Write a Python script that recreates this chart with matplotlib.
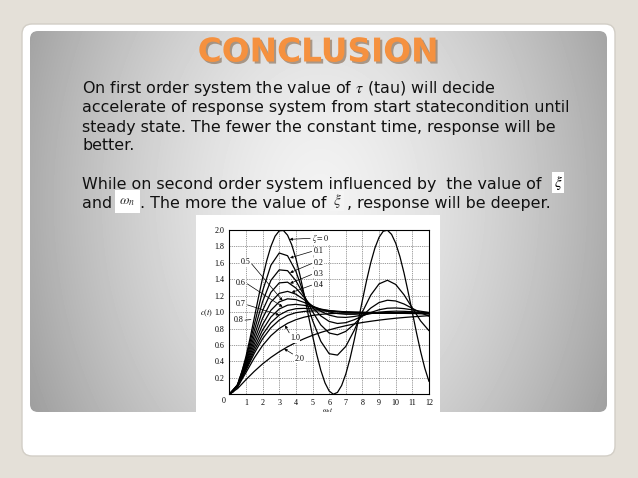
import numpy as np
import matplotlib
matplotlib.use("Agg")
import matplotlib.pyplot as plt
import matplotlib.patheffects as pe
from matplotlib.patches import FancyBboxPatch, Rectangle

plt.rcParams["mathtext.fontset"] = "stix"

# step response, c(t) against wn*t
t_fine = [0, 0.25, 0.5, 0.75, 1, 1.25, 1.5, 1.75, 2, 2.25, 2.5, 2.75, 3, 3.25, 3.5, 3.75,
          4, 4.25, 4.5, 4.75, 5, 5.25, 5.5, 5.75, 6, 6.25, 6.5, 6.75, 7, 7.25, 7.5, 7.75,
          8, 8.25, 8.5, 8.75, 9, 9.25, 9.5, 9.75, 10, 10.25, 10.5, 10.75, 11, 11.25, 11.5,
          11.75, 12]
t_coarse = [0, 0.5, 1, 1.5, 2, 2.5, 3, 3.5, 4, 4.5, 5, 5.5, 6, 6.5, 7, 7.5, 8, 8.5, 9,
            9.5, 10, 10.5, 11, 11.5, 12]

c_zeta_00 = [0, 0.031, 0.122, 0.268, 0.460, 0.685, 0.929, 1.178, 1.416, 1.628, 1.801, 1.924,
             1.990, 1.994, 1.937, 1.821, 1.654, 1.446, 1.211, 0.962, 0.716, 0.488, 0.291,
             0.139, 0.040, 0.001, 0.023, 0.107, 0.246, 0.431, 0.653, 0.896, 1.146, 1.386,
             1.602, 1.781, 1.911, 1.985, 1.997, 1.947, 1.839, 1.678, 1.476, 1.242, 0.996,
             0.748, 0.517, 0.316, 0.156]
c_zeta_01 = [0, 0.118, 0.431, 0.846, 1.258, 1.571, 1.720, 1.687, 1.498, 1.210, 0.901, 0.645,
             0.494, 0.477, 0.583, 0.776, 1.003, 1.207, 1.344, 1.388, 1.337, 1.211, 1.050,
             0.892, 0.774]
c_zeta_02 = [0, 0.115, 0.405, 0.775, 1.128, 1.387, 1.515, 1.505, 1.383, 1.200, 1.006, 0.844,
             0.746, 0.724, 0.766, 0.852, 0.956, 1.050, 1.117, 1.145, 1.136, 1.099, 1.046,
             0.993, 0.951]
c_zeta_03 = [0, 0.111, 0.381, 0.712, 1.019, 1.241, 1.356, 1.365, 1.294, 1.180, 1.057, 0.954,
             0.887, 0.862, 0.872, 0.907, 0.952, 0.996, 1.029, 1.048, 1.051, 1.043, 1.028,
             1.011, 0.996]
c_zeta_04 = [0, 0.108, 0.360, 0.658, 0.927, 1.122, 1.229, 1.253, 1.219, 1.151, 1.076, 1.010,
             0.964, 0.940, 0.936, 0.947, 0.964, 0.983, 1.000, 1.008, 1.012, 1.010, 1.005,
             0.999, 0.994]
c_zeta_05 = [0, 0.104, 0.340, 0.611, 0.849, 1.023, 1.125, 1.162, 1.153, 1.118, 1.074, 1.034,
             1.002, 0.983, 0.974, 0.974, 0.979, 0.984, 0.989, 0.992, 0.994, 0.993, 0.991,
             0.989, 0.987]
c_zeta_06 = [0, 0.101, 0.322, 0.568, 0.783, 0.941, 1.038, 1.085, 1.095, 1.083, 1.061, 1.038,
             1.018, 1.004, 0.995, 0.990, 0.988, 0.988, 0.989, 0.990, 0.990, 0.989, 0.987,
             0.985, 0.983]
c_zeta_07 = [0, 0.098, 0.306, 0.531, 0.726, 0.871, 0.965, 1.018, 1.042, 1.046, 1.040, 1.030,
             1.020, 1.011, 1.004, 0.999, 0.996, 0.994, 0.993, 0.992, 0.990, 0.988, 0.986,
             0.984, 0.982]
c_zeta_08 = [0, 0.096, 0.291, 0.498, 0.676, 0.810, 0.903, 0.961, 0.993, 1.009, 1.015, 1.015,
             1.012, 1.008, 1.004, 1.001, 0.999, 0.997, 0.995, 0.993, 0.991, 0.989, 0.987,
             0.985, 0.983]
c_zeta_10 = [0, 0.090, 0.264, 0.442, 0.594, 0.713, 0.801, 0.864, 0.908, 0.939, 0.960, 0.973,
             0.981, 0.986, 0.988, 0.989, 0.989, 0.989, 0.988, 0.987, 0.986, 0.985, 0.983,
             0.981, 0.979]
c_zeta_20 = [0, 0.070, 0.178, 0.279, 0.370, 0.449, 0.518, 0.578, 0.631, 0.677, 0.718, 0.753,
             0.784, 0.811, 0.835, 0.856, 0.874, 0.889, 0.903, 0.915, 0.926, 0.935, 0.943,
             0.950, 0.957]

zeta_labels = ["$\\zeta = 0$", "0.1", "0.2", "0.3", "0.4", "0.5", "0.6", "0.7", "0.8", "1.0", "2.0"]
x_ticks = [1, 2, 3, 4, 5, 6, 7, 8, 9, 10, 11, 12]
y_ticks = [0.2, 0.4, 0.6, 0.8, 1.0, 1.2, 1.4, 1.6, 1.8, 2.0]

W, H = 638, 478
fig = plt.figure(figsize=(W / 100, H / 100), dpi=100)
fig.patch.set_facecolor("#e4e0d8")

bg = fig.add_axes([0, 0, 1, 1])
bg.set_xlim(0, W)
bg.set_ylim(H, 0)
bg.axis("off")

# white card and grey gradient panel
card = FancyBboxPatch((22, 24), 593, 432, boxstyle="round,pad=0,rounding_size=10",
                      facecolor="white", edgecolor="#d2cec6", lw=1.0, zorder=1)
bg.add_patch(card)
panel = FancyBboxPatch((30, 31), 577, 381, boxstyle="round,pad=0,rounding_size=8",
                       facecolor="none", edgecolor="none", zorder=2)
bg.add_patch(panel)
yy, xx = np.mgrid[0:H, 0:W]
dx = (xx - 320) / 300.0
dy = (yy - 200) / 420.0
r = np.sqrt(dx ** 2 + dy ** 2)
shade = np.clip(0.95 - 0.29 * r ** 1.5, 0.55, 1.0)
im = bg.imshow(shade, cmap="gray", vmin=0, vmax=1, extent=(0, W, H, 0),
               interpolation="bilinear", zorder=2)
im.set_clip_path(panel)

# title
bg.text(318, 52, "CONCLUSION", ha="center", va="center", fontsize=23.6,
        fontweight="bold", color="#f5913f", zorder=5,
        path_effects=[pe.withSimplePatchShadow(offset=(1.5, -1.5),
                                               shadow_rgbFace="#7a5a3c", alpha=0.55)])

body = dict(fontsize=11.45, color="#111111", va="baseline", ha="left", zorder=5)
bg.text(82, 93.3, "On first order system the value of $\\tau$ (tau) will decide", **body)
bg.text(82, 112.3, "accelerate of response system from start statecondition until", **body)
bg.text(82, 131.7, "steady state. The fewer the constant time, response will be", **body)
bg.text(82, 150.3, "better.", **body)
bg.text(82, 189, "While on second order system influenced by  the value of", **body)
bg.text(82, 208.3, "and", **body)
bg.text(140.5, 208.3, ". The more the value of", **body)
bg.text(347, 208.3, ", response will be deeper.", **body)

# small inline symbol pictures
bg.add_patch(Rectangle((552, 172), 12, 21, facecolor="white", edgecolor="none", zorder=4))
bg.text(558, 183, "$\\xi$", ha="center", va="center", fontsize=11, zorder=5)
bg.add_patch(Rectangle((115, 190), 25, 23, facecolor="white", edgecolor="none", zorder=4))
bg.text(127, 201, "$\\omega_n$", ha="center", va="center", fontsize=10, color="#333333", zorder=5)
bg.add_patch(Rectangle((330, 191), 14, 20, facecolor="#f4f4f4", edgecolor="none", zorder=4))
bg.text(337, 201, "$\\xi$", ha="center", va="center", fontsize=11, color="#333333", zorder=5)

# the scanned chart
bg.add_patch(Rectangle((196, 215), 244, 197, facecolor="white", edgecolor="none", zorder=4))

ax = fig.add_axes([229.3 / W, (H - 394.3) / H, (429 - 229.3) / W, (394.3 - 230) / H])
ax.set_zorder(6)
ax.set_facecolor("white")

curves = [(t_fine, c_zeta_00), (t_coarse, c_zeta_01), (t_coarse, c_zeta_02),
          (t_coarse, c_zeta_03), (t_coarse, c_zeta_04), (t_coarse, c_zeta_05),
          (t_coarse, c_zeta_06), (t_coarse, c_zeta_07), (t_coarse, c_zeta_08),
          (t_coarse, c_zeta_10), (t_coarse, c_zeta_20)]
for tx, cy in curves:
    ax.plot(tx, cy, color="black", lw=0.9, solid_capstyle="round")

ax.set_xlim(0, 12)
ax.set_ylim(0, 2)
ax.set_xticks(x_ticks)
ax.set_yticks(y_ticks)
ax.set_xticklabels([str(v) for v in x_ticks])
ax.set_yticklabels(["%.1f" % v for v in y_ticks])
ax.tick_params(length=0, labelsize=5.8, pad=3.5)
for lab in ax.get_xticklabels() + ax.get_yticklabels():
    lab.set_family("Liberation Serif")
ax.grid(True, color="#666666", lw=0.45, linestyle=(0, (2, 1.5)))
for sp in ax.spines.values():
    sp.set_linewidth(0.8)
    sp.set_color("black")

serif = dict(fontsize=5.8, family="Liberation Serif")
ax.text(-0.32, -0.085, "0", ha="center", va="center", clip_on=False, **serif)
ax.text(-1.35, 0.99, "$c(t)$", ha="center", va="center", fontsize=6, clip_on=False)
ax.text(5.9, -0.2, "$\\omega_n t$", ha="center", va="center", fontsize=5, clip_on=False)

# curve labels with leaders
label_text = [(4.97, 1.90), (5.05, 1.745), (5.05, 1.60), (5.05, 1.467), (5.05, 1.336),
              (0.97, 1.606), (0.69, 1.357), (0.69, 1.095), (0.54, 0.90), (3.95, 0.68),
              (4.2, 0.43)]
label_tip = [(3.62, 1.886), (3.65, 1.66), (3.65, 1.48), (3.65, 1.35), (3.75, 1.24),
             (3.2, 1.14), (3.2, 1.065), (3.0, 0.965), (1.3, 0.91), (3.35, 0.84),
             (3.3, 0.554)]
for i, (lab, xt, tip) in enumerate(zip(zeta_labels, label_text, label_tip)):
    if i <= 4:
        ha, rel = "left", (0, 0.5)
    elif i <= 8:
        ha, rel = "center", (1, 0.5)
    else:
        ha, rel = "center", (0, 1)
    style = "-" if i == 8 else "-|>"
    ax.annotate(lab, xy=tip, xytext=xt, ha=ha, va="center",
                fontsize=5.8, family="Liberation Serif",
                arrowprops=dict(arrowstyle=style, lw=0.5, color="black",
                                mutation_scale=4, shrinkA=1, shrinkB=0, relpos=rel),
                annotation_clip=False,
                bbox=dict(boxstyle="square,pad=0.05", fc="white", ec="none"))

fig.savefig("out.png", dpi=100, facecolor=fig.get_facecolor())
